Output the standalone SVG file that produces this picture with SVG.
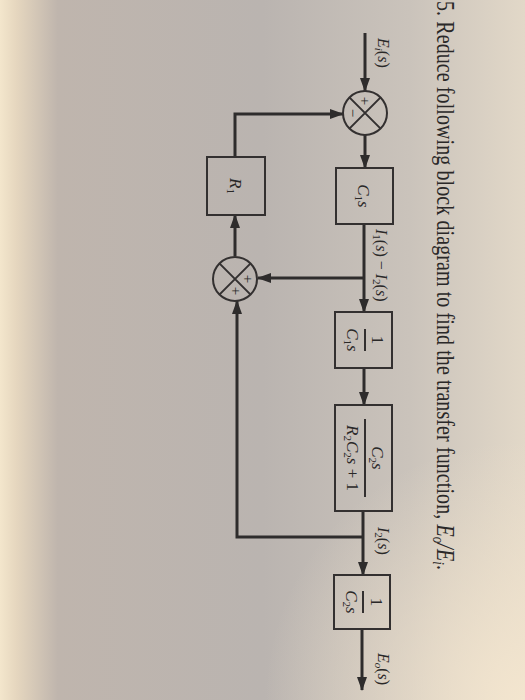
<svg xmlns="http://www.w3.org/2000/svg" width="525" height="700" viewBox="0 0 525 700">
<defs>
<linearGradient id="bg" x1="0" y1="0" x2="1" y2="0">
<stop offset="0" stop-color="#f3e6cc"/>
<stop offset="0.03" stop-color="#e6d7bf"/>
<stop offset="0.11" stop-color="#bfb5ad"/>
<stop offset="0.5" stop-color="#bab4b0"/>
<stop offset="0.78" stop-color="#cac3bb"/>
<stop offset="1" stop-color="#e2d8c8"/>
</linearGradient>
<radialGradient id="hl" cx="525" cy="700" r="260" gradientUnits="userSpaceOnUse">
<stop offset="0" stop-color="#f4e6cf" stop-opacity="0.95"/>
<stop offset="1" stop-color="#f4e6cf" stop-opacity="0"/>
</radialGradient>
<marker id="ah" markerWidth="14" markerHeight="10" refX="13" refY="5" orient="auto" markerUnits="userSpaceOnUse">
<path d="M0,0 L14,5 L0,10 Z" fill="#2e2c2c"/>
</marker>
</defs>
<style>
.ln{fill:none;stroke:#2e2c2c;stroke-width:3}
.bx{fill:none;stroke:#333030;stroke-width:2}
.sj{fill:none;stroke:#333030;stroke-width:2}
.t{font-family:"Liberation Serif","DejaVu Serif",serif;fill:#2a2828}
.i{font-style:italic}
</style>
<rect width="525" height="700" fill="url(#bg)"/>
<rect width="525" height="700" fill="url(#hl)"/>

<text class="t" transform="translate(437,1) rotate(90) scale(1,1.25)" font-size="20" textLength="569" lengthAdjust="spacing">5. Reduce following block diagram to find the transfer function, <tspan class="i">E</tspan><tspan class="i" font-size="13" dy="3">o</tspan><tspan class="i" dy="-3">/E</tspan><tspan class="i" font-size="13" dy="3">i</tspan><tspan dy="-3">.</tspan></text>

<g id="connectors">
<path class="ln" d="M365,33 V91" marker-end="url(#ah)"/>
<path class="ln" d="M365,135 V168" marker-end="url(#ah)"/>
<path class="ln" d="M364,224 V312" marker-end="url(#ah)"/>
<path class="ln" d="M364,278 H258" marker-end="url(#ah)"/>
<path class="ln" d="M364,368 V405" marker-end="url(#ah)"/>
<path class="ln" d="M363,511 V575" marker-end="url(#ah)"/>
<path class="ln" d="M363,537 H237 V301" marker-end="url(#ah)"/>
<path class="ln" d="M235,256 V215" marker-end="url(#ah)"/>
<path class="ln" d="M235,157 V114 H343" marker-end="url(#ah)"/>
<path class="ln" d="M362,629 V690" marker-end="url(#ah)"/>
</g>

<g id="label-ei">
<text class="t" transform="translate(378,38) rotate(90)" font-size="16"><tspan class="i">E</tspan><tspan class="i" font-size="11" dy="3">i</tspan><tspan dy="-3">(</tspan><tspan class="i">s</tspan>)</text>
</g>

<g id="sum1">
<circle class="sj" cx="365" cy="113" r="22"/>
<path class="sj" d="M349.4,97.4 L380.6,128.6 M380.6,97.4 L349.4,128.6"/>
<text class="t" transform="translate(360,101) rotate(90)" font-size="15" text-anchor="middle">+</text>
<text class="t" transform="translate(348,113) rotate(90)" font-size="15" text-anchor="middle">−</text>
</g>

<g id="block-c1s">
<rect class="bx" x="336" y="168" width="57" height="56"/>
<text class="t" transform="translate(358,196) rotate(90)" font-size="17" text-anchor="middle"><tspan class="i">C</tspan><tspan font-size="11" dy="3">1</tspan><tspan class="i" dy="-3">s</tspan></text>
</g>

<g id="label-i1i2">
<text class="t" transform="translate(376,229) rotate(90)" font-size="16"><tspan class="i">I</tspan><tspan font-size="11" dy="3">1</tspan><tspan dy="-3">(</tspan><tspan class="i">s</tspan>) − <tspan class="i">I</tspan><tspan font-size="11" dy="3">2</tspan><tspan dy="-3">(</tspan><tspan class="i">s</tspan>)</text>
</g>

<g id="block-1c1s">
<rect class="bx" x="335" y="312" width="57" height="56"/>
<text class="t" transform="translate(372,340) rotate(90)" font-size="17" text-anchor="middle">1</text>
<path class="bx" d="M365,329 V351"/>
<text class="t" transform="translate(347,340) rotate(90)" font-size="17" text-anchor="middle"><tspan class="i">C</tspan><tspan font-size="11" dy="3">1</tspan><tspan class="i" dy="-3">s</tspan></text>
</g>

<g id="block-c2s">
<rect class="bx" x="335" y="405" width="57" height="106"/>
<text class="t" transform="translate(372,458) rotate(90)" font-size="17" text-anchor="middle"><tspan class="i">C</tspan><tspan font-size="11" dy="3">2</tspan><tspan class="i" dy="-3">s</tspan></text>
<path class="bx" d="M365,419 V497"/>
<text class="t" transform="translate(347,458) rotate(90)" font-size="17" text-anchor="middle"><tspan class="i">R</tspan><tspan font-size="11" dy="3">2</tspan><tspan class="i" dy="-3">C</tspan><tspan font-size="11" dy="3">2</tspan><tspan class="i" dy="-3">s</tspan> + 1</text>
</g>

<g id="label-i2">
<text class="t" transform="translate(378,527) rotate(90)" font-size="16"><tspan class="i">I</tspan><tspan font-size="11" dy="3">2</tspan><tspan dy="-3">(</tspan><tspan class="i">s</tspan>)</text>
</g>

<g id="block-1c2s">
<rect class="bx" x="334" y="575" width="56" height="54"/>
<text class="t" transform="translate(371,602) rotate(90)" font-size="17" text-anchor="middle">1</text>
<path class="bx" d="M363,591 V613"/>
<text class="t" transform="translate(346,602) rotate(90)" font-size="17" text-anchor="middle"><tspan class="i">C</tspan><tspan font-size="11" dy="3">2</tspan><tspan class="i" dy="-3">s</tspan></text>
</g>

<g id="label-eo">
<text class="t" transform="translate(378,653) rotate(90)" font-size="16"><tspan class="i">E</tspan><tspan class="i" font-size="11" dy="3">o</tspan><tspan dy="-3">(</tspan><tspan class="i">s</tspan>)</text>
</g>

<g id="sum2">
<circle class="sj" cx="235" cy="279" r="22"/>
<path class="sj" d="M219.4,263.4 L250.6,294.6 M250.6,263.4 L219.4,294.6"/>
<text class="t" transform="translate(243,279) rotate(90)" font-size="15" text-anchor="middle">+</text>
<text class="t" transform="translate(231,291) rotate(90)" font-size="15" text-anchor="middle">+</text>
</g>

<g id="block-r1">
<rect class="bx" x="207" y="157" width="58" height="58"/>
<text class="t" transform="translate(230,186) rotate(90)" font-size="17" text-anchor="middle"><tspan class="i">R</tspan><tspan font-size="11" dy="3">1</tspan></text>
</g>
</svg>
